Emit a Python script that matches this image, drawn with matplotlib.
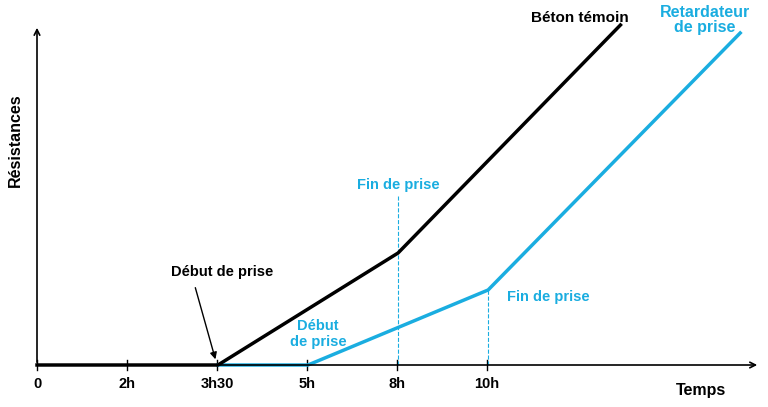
import matplotlib.pyplot as plt

plt.rcParams['font.family'] = ['Liberation Sans', 'DejaVu Sans']

# positions des graduations (espacement régulier)
tick_pos = [0, 1, 2, 3, 4, 5]
tick_labels = ["0", "2h", "3h30", "5h", "8h", "10h"]

# béton témoin
temoin_x = [0, 2.01, 4.01, 6.48]
temoin_y = [0, 0, 1.12, 3.40]

# avec retardateur de prise
retard_x = [2.01, 3.01, 5.01, 7.81]
retard_y = [0, 0, 0.75, 3.32]

BLUE = "#1AADE0"

fig = plt.figure(figsize=(7.68, 4.07), dpi=100)
ax = fig.add_axes([37 / 768, 42 / 407, 723 / 768, 340 / 407])
ax.set_xlim(0, 8.03)
ax.set_ylim(0, 3.4)
for s in ax.spines.values():
    s.set_visible(False)
ax.set_xticks([])
ax.set_yticks([])

# axes avec flèches
ax.annotate("", xy=(8.03, 0), xytext=(0, 0), annotation_clip=False,
            arrowprops=dict(arrowstyle="->", color="black", lw=1.2))
ax.annotate("", xy=(0, 3.4), xytext=(0, 0), annotation_clip=False,
            arrowprops=dict(arrowstyle="->", color="black", lw=1.2))
for p, lab in zip(tick_pos, tick_labels):
    ax.plot([p, p], [-0.05, 0.05], color="black", lw=1, clip_on=False)
    ax.text(p, -0.12, lab, ha="center", va="top", fontsize=10.5, fontweight="bold")

ax.plot(temoin_x, temoin_y, color="black", lw=2.5, clip_on=False, zorder=3)
ax.plot(retard_x, retard_y, color=BLUE, lw=2.5, clip_on=False, zorder=2)

ax.plot([4.01, 4.01], [0, 1.7], color=BLUE, lw=0.8, ls="--")
ax.plot([5.01, 5.01], [0, 0.75], color=BLUE, lw=0.8, ls="--")

ax.text(6.03, 3.47, "Béton témoin", ha="center", va="center", fontsize=11,
        fontweight="bold")
ax.text(7.42, 3.45, "Retardateur\nde prise", ha="center", va="center", fontsize=11.5,
        fontweight="bold", color=BLUE, linespacing=1.0)
ax.text(4.01, 1.8, "Fin de prise", ha="center", va="center", fontsize=10.5,
        fontweight="bold", color=BLUE)
ax.text(5.68, 0.68, "Fin de prise", ha="center", va="center", fontsize=10.5,
        fontweight="bold", color=BLUE)
ax.text(3.12, 0.31, "Début\nde prise", ha="center", va="center", fontsize=10.5,
        fontweight="bold", color=BLUE, linespacing=1.1)
ax.text(2.06, 0.93, "Début de prise", ha="center", va="center", fontsize=10.5,
        fontweight="bold")
ax.annotate("", xy=(1.99, 0.03), xytext=(1.75, 0.8),
            arrowprops=dict(arrowstyle="-|>", color="black", lw=1))
ax.text(7.37, -0.25, "Temps", ha="center", va="center", fontsize=11.5,
        fontweight="bold", clip_on=False)
ax.text(-0.24, 2.25, "Résistances", ha="center", va="center", rotation=90,
        fontsize=11.5, fontweight="bold")

fig.savefig("out.png", dpi=100)
